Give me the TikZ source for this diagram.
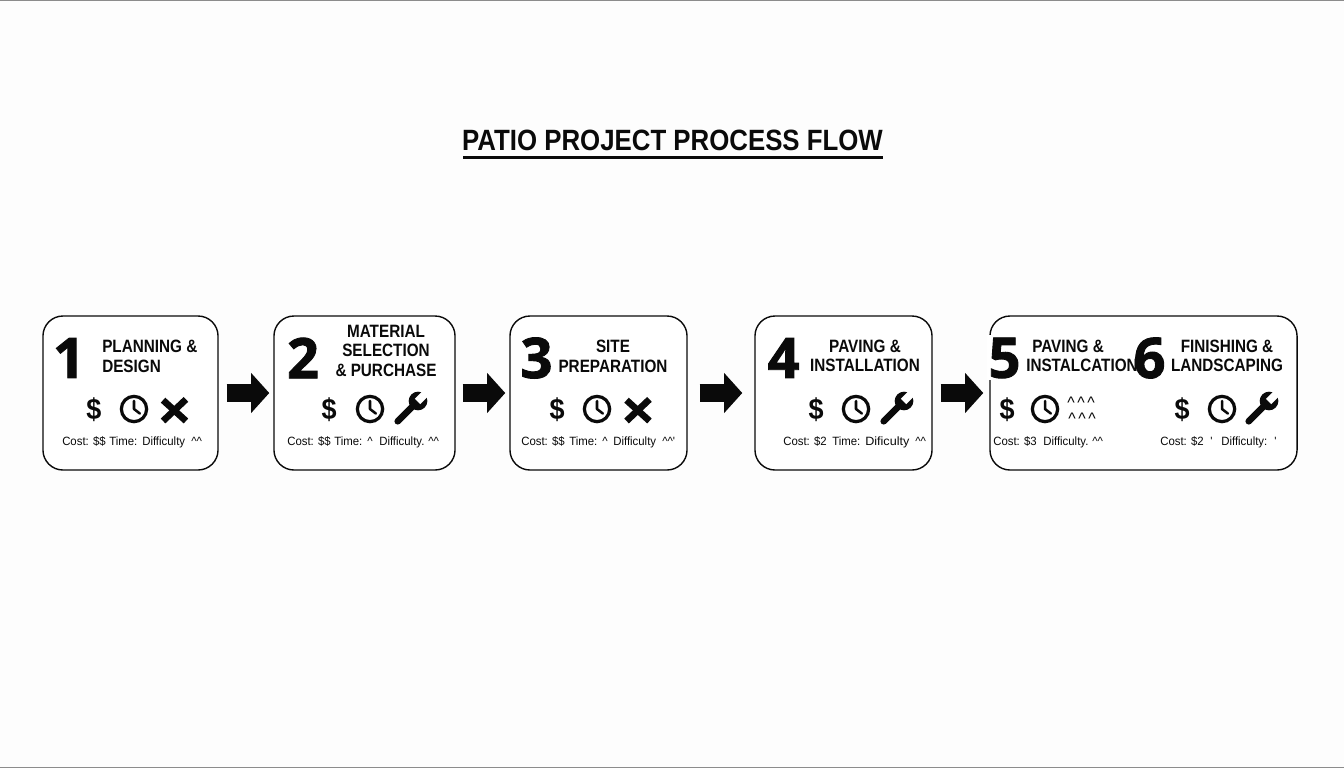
\documentclass[tikz,border=0pt]{standalone}
\usepackage{fontspec}
\setmainfont{Liberation Sans}
\newfontfamily\titlefont[FakeStretch=0.88]{Liberation Sans Bold}
\newfontfamily\headfont[FakeStretch=0.855]{Liberation Sans Bold}
\newfontfamily\dollarfont[FakeStretch=0.92]{Liberation Sans Bold}
\newfontfamily\numfont[FakeBold=1.6]{Open Sans Bold}
\newfontfamily\smallfont[FakeStretch=0.95]{Liberation Sans}
\newfontfamily\widesmallfont[FakeStretch=1.05]{Liberation Sans}
\usetikzlibrary{arrows.meta}
\definecolor{ink}{HTML}{0A0A0A}
\tikzset{
  box/.style={draw=ink,line width=1.05pt,rounded corners=15pt,fill=white,minimum height=115.5pt,inner sep=0pt},
  numeral/.style={font=\numfont\fontsize{42}{42}\selectfont,text=ink,inner sep=0pt},
  heading/.style={font=\headfont\fontsize{13.4}{14.6}\selectfont,text=ink,inner sep=0pt,align=center},
  stat/.style={font=\smallfont\fontsize{9}{9}\selectfont,text=ink,inner sep=0pt,anchor=base west},
  dollar/.style={font=\dollarfont\fontsize{22}{22}\selectfont,text=ink,inner sep=0pt},
  clockring/.style={draw=ink,line width=2.4pt,circle,minimum size=19pt,inner sep=0pt},
  flow/.style={line width=14pt,draw=ink,-{Triangle[length=13.7pt,width=29.5pt]}},
}
\newcommand{\clockat}[3]{% name, x, y
  \node[clockring] (#1) at (#2,#3) {};
  \draw[ink,line width=1.9pt,line cap=round,line join=round] ([yshift=6pt]#1.center) -- (#1.center) -- ++(4.4pt,-3.4pt);
}
\newcommand{\crossat}[2]{%
  \begin{scope}[shift={(#1,#2)}]
    \draw[ink,line width=5pt] (-8.6pt,7pt) -- (8.6pt,-8.6pt);
    \draw[ink,line width=5pt] (-8.6pt,-8.6pt) -- (8.6pt,7.6pt);
  \end{scope}
}
\newcommand{\wrenchat}[2]{%
  \begin{scope}[shift={(#1,#2)},rotate=45]
    \draw[ink,line width=5pt,line cap=round] (-13pt,0pt) -- (6pt,0pt);
    \fill[ink] (8.5pt,0pt) circle (7pt);
    \fill[white] (8pt,-2.8pt) -- (17pt,-2.8pt) -- (17pt,2.8pt) -- (8pt,2.8pt) -- cycle;
  \end{scope}
}
\begin{document}
\begin{tikzpicture}[x=0.75pt,y=-0.75pt]
\useasboundingbox (0,0) rectangle (1344,768);
\fill[white!99.4!black] (0,0) rectangle (1344,768);
\draw[black!45,line width=0.7pt] (0,0.3) -- (1344,0.3);
\draw[black!45,line width=0.7pt] (0,767.6) -- (1344,767.6);

\node[inner sep=0pt,text=ink,font=\titlefont\fontsize{22}{22}\selectfont] (title) at (672.5,140) {PATIO PROJECT PROCESS FLOW};
\draw[ink,line width=2.4pt] (463,157.2) -- (883,157.2);

\node[box,minimum width=131.3pt] (b1) at (130.5,393) {};
\node[box,minimum width=135.8pt] (b2) at (364.5,393) {};
\node[box,minimum width=132.8pt] (b3) at (598.5,393) {};
\node[box,minimum width=132.8pt] (b4) at (843.5,393) {};
\node[box,minimum width=230.3pt] (b5) at (1143.5,393) {};
\fill[white] (987,335) rectangle (993,380);

\draw[flow,shorten <=6pt,shorten >=3pt] (b1.east) -- (b2.west);
\draw[flow,shorten <=5.2pt,shorten >=3pt] (b2.east) -- (b3.west);
\draw[flow,shorten <=9pt,shorten >=9pt] (b3.east) -- (b4.west);
\draw[flow,shorten <=6pt,shorten >=4.5pt] (b4.east) -- (b5.west);

\node[numeral] (n1) at (69,358) {1};
\node[numeral] (n2) at (303,358) {2};
\node[numeral] (n3) at (536.5,358) {3};
\node[numeral] (n4) at (783.5,358) {4};
\node[numeral] (n5) at (1004.5,358) {5};
\node[numeral] (n6) at (1149.5,358) {6};

\node[heading,align=left,anchor=west] (h1) at (102,356.5) {PLANNING \&\\DESIGN};
\node[heading] (h2) at (386,350.5) {MATERIAL\\SELECTION\\\& PURCHASE};
\node[heading] (h3) at (613,356.5) {SITE\\PREPARATION};
\node[heading] (h4) at (865,356) {PAVING \&\\INSTALLATION};
\node[heading,align=left,anchor=west] (h5) at (1026,356) {\hspace*{4.5pt}PAVING \&\\INSTALCATION};
\node[heading] (h6) at (1227,356) {FINISHING \&\\LANDSCAPING};

\node[dollar] (d1) at (94,410) {\$};
\node[dollar] (d2) at (329,410) {\$};
\node[dollar] (d3) at (557,410) {\$};
\node[dollar] (d4) at (816,410) {\$};
\node[dollar] (d5) at (1007,410) {\$};
\node[dollar] (d6) at (1182,410) {\$};

\clockat{c1}{134}{409}
\clockat{c2}{370}{409}
\clockat{c3}{597}{409}
\clockat{c4}{856}{409}
\clockat{c5}{1045}{409}
\clockat{c6}{1222}{409}

\crossat{174.5}{409.5}
\wrenchat{410}{409}
\crossat{638}{409.5}
\wrenchat{896}{409}
\wrenchat{1261}{409}

\node[stat,font=\smallfont\fontsize{12.5}{12.5}\selectfont] (k1) at (1067,408.5) {\textasciicircum\hspace{2pt}\textasciicircum\hspace{2pt}\textasciicircum};
\node[stat,font=\smallfont\fontsize{12.5}{12.5}\selectfont] (k2) at (1068,424) {\textasciicircum\hspace{2pt}\textasciicircum\hspace{2pt}\textasciicircum};

\node[stat] (s11) at (62,445) {Cost: \$\$};
\node[stat] (s12) at (109,445) {Time:};
\node[stat] (s13) at (142,445) {Difficulty};
\node[stat] (s14) at (191,445) {\textasciicircum\textasciicircum};

\node[stat] (s21) at (287,445) {Cost: \$\$};
\node[stat] (s22) at (334,445) {Time:};
\node[stat] (s23) at (367,445) {\textasciicircum};
\node[stat] (s24) at (379,445) {Difficulty.};
\node[stat] (s25) at (428,445) {\textasciicircum\textasciicircum};

\node[stat] (s31) at (521,445) {Cost: \$\$};
\node[stat] (s32) at (569,445) {Time:};
\node[stat] (s33) at (602,445) {\textasciicircum};
\node[stat] (s34) at (613,445) {Difficulty};
\node[stat] (s35) at (662,445) {\textasciicircum\textasciicircum'};

\node[stat] (s41) at (783,445) {Cost: \$2};
\node[stat] (s42) at (832,445) {Time:};
\node[stat,font=\widesmallfont\fontsize{9}{9}\selectfont] (s43) at (865,445) {Dificulty};
\node[stat] (s44) at (915,445) {\textasciicircum\textasciicircum};

\node[stat] (s51) at (993,445) {Cost: \$3};
\node[stat] (s52) at (1043,445) {Difficulty.};
\node[stat] (s53) at (1092,445) {\textasciicircum\textasciicircum};

\node[stat] (s61) at (1160,445) {Cost: \$2};
\node[stat] (s62) at (1210,445) {'};
\node[stat] (s63) at (1221,445) {Difficulty:};
\node[stat] (s64) at (1274,445) {'};
\end{tikzpicture}
\end{document}
